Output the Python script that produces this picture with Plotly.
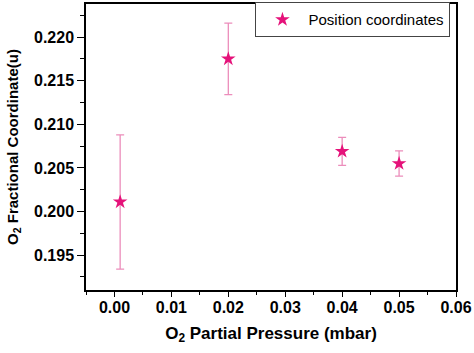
import plotly.graph_objects as go

pressure = [0.001, 0.02, 0.04, 0.05]
coord = [0.2011, 0.2175, 0.2069, 0.2055]
err = [0.0077, 0.0041, 0.0016, 0.00145]
xticks = [0.00, 0.01, 0.02, 0.03, 0.04, 0.05, 0.06]
yticks = [0.195, 0.200, 0.205, 0.210, 0.215, 0.220]

FONT = "Liberation Sans, Arial, sans-serif"

fig = go.Figure()
fig.add_trace(go.Scatter(
    x=pressure, y=coord, mode="markers", name="Position coordinates",
    marker=dict(symbol="star", size=11, color="#E5127A", line=dict(width=0)),
    error_y=dict(type="data", array=err, visible=True, color="#EC8DBB",
                 thickness=1.3, width=4),
))

def axis_common(ticklen, minorlen):
    return dict(
        showline=True, linecolor="black", linewidth=1.5, mirror=True,
        ticks="outside", tickcolor="black", ticklen=ticklen, tickwidth=1.2,
        showgrid=False, zeroline=False,
        ticklabeloverflow="allow",
        tickfont=dict(family=FONT, size=16, color="black", weight="bold"),
        minor=dict(ticks="outside", ticklen=minorlen, tickcolor="black", tickwidth=1.2),
    )

fig.update_xaxes(
    range=[-0.005, 0.06], tickvals=xticks,
    ticktext=[f"{v:.2f}" for v in xticks],
    minor_dtick=0.005,
    ticklabelstandoff=-3,
    title=dict(text="O<sub>2</sub> Partial Pressure (mbar)", standoff=12,
               font=dict(family=FONT, size=17, color="black", weight="bold")),
    **axis_common(5, 3),
)
fig.update_yaxes(
    range=[0.191, 0.2238], tickvals=yticks,
    ticktext=[f"{v:.3f}" for v in yticks],
    minor_dtick=0.0025, minor_tick0=0.0,
    title=dict(text="O<sub>2</sub> Fractional Coordinate(u)", standoff=12,
               font=dict(family=FONT, size=15, color="black", weight="bold")),
    **axis_common(7, 4),
)

fig.update_layout(
    width=474, height=353,
    margin=dict(l=86, r=15, t=2, b=63),
    paper_bgcolor="white", plot_bgcolor="white",
    showlegend=True,
    legend=dict(x=0.985, y=1.006, xanchor="right", yanchor="top",
                bordercolor="#444", borderwidth=1, bgcolor="white",
                font=dict(family=FONT, size=15, color="black"),
                itemwidth=42),
)

fig.write_html("out.html")
